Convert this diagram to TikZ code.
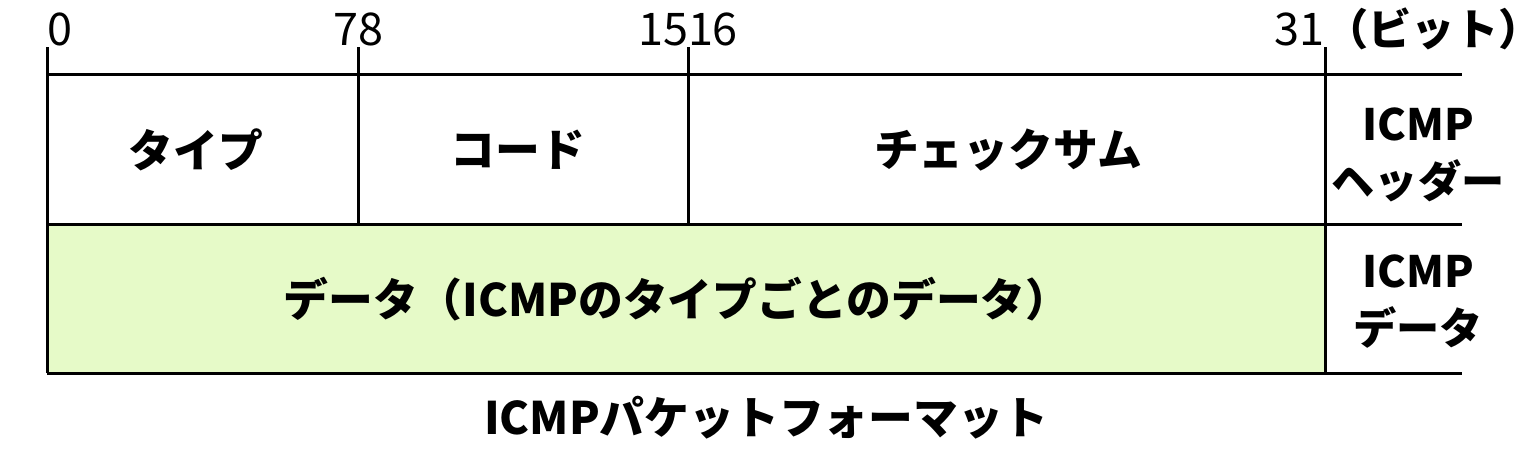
\documentclass[tikz,border=0pt]{standalone}
\usepackage{fontspec}
\setmainfont{Noto Sans CJK JP}
\definecolor{datafill}{HTML}{E6FAC8}
\begin{document}
\begin{tikzpicture}[x=0.5pt,y=-0.5pt,
  rule/.style={line width=1.5pt,black},
  num/.style={inner sep=0pt,font=\fontsize{22.5}{27}\selectfont},
  lbl/.style={inner sep=0pt,align=center,font=\fontsize{22.4}{28.5}\selectfont\bfseries},
  side/.style={inner sep=0pt,align=center,font=\fontsize{21.6}{28.5}\selectfont\bfseries}]
\useasboundingbox (0,0) rectangle (1536,461);
% coordinates
\coordinate (tl) at (47,47);
\coordinate (bl) at (47,373);
\coordinate (t78) at (358,47);
\coordinate (t1516) at (688,47);
\coordinate (t31) at (1325,47);
\coordinate (b31) at (1325,373);
\coordinate (ltop) at (47,74);
\coordinate (rtop) at (1462,74);
\coordinate (lmid) at (47,224);
\coordinate (rmid) at (1462,224);
\coordinate (rbot) at (1462,373);
\coordinate (m78) at (358,224);
\coordinate (m1516) at (688,224);
% fill
\fill[datafill] (lmid) rectangle (b31);
% lines
\draw[rule] (tl) -- (bl);
\draw[rule] (t78) -- (m78);
\draw[rule] (t1516) -- (m1516);
\draw[rule] (t31) -- (b31);
\draw[rule] (ltop) -- (rtop);
\draw[rule] (lmid) -- (rmid);
\draw[rule] (bl) -- (rbot);
% bit numbers
\node[num,anchor=base west] (n0) at (47,45) {0};
\node[num,anchor=base] (n78) at (358,45) {78};
\node[num,anchor=base] (n1516) at (688,45) {1516};
\node[num,anchor=base east] (n31) at (1325,45) {31};
\node[side,anchor=base west] (bit) at (n31.base east) {（ビット）};
% fields
\node[lbl] (type) at (196,150) {タイプ};
\node[lbl] (code) at (518,150) {コード};
\node[lbl] (sum) at (1008,150) {チェックサム};
\node[lbl] (data) at (677,299) {データ（ICMPのタイプごとのデータ）};
\node[side] (hdr) at (1418,155) {ICMP\\ヘッダー};
\node[side] (dat) at (1418,302) {ICMP\\データ};
\node[lbl] (cap) at (766,418) {ICMPパケットフォーマット};
\end{tikzpicture}
\end{document}
